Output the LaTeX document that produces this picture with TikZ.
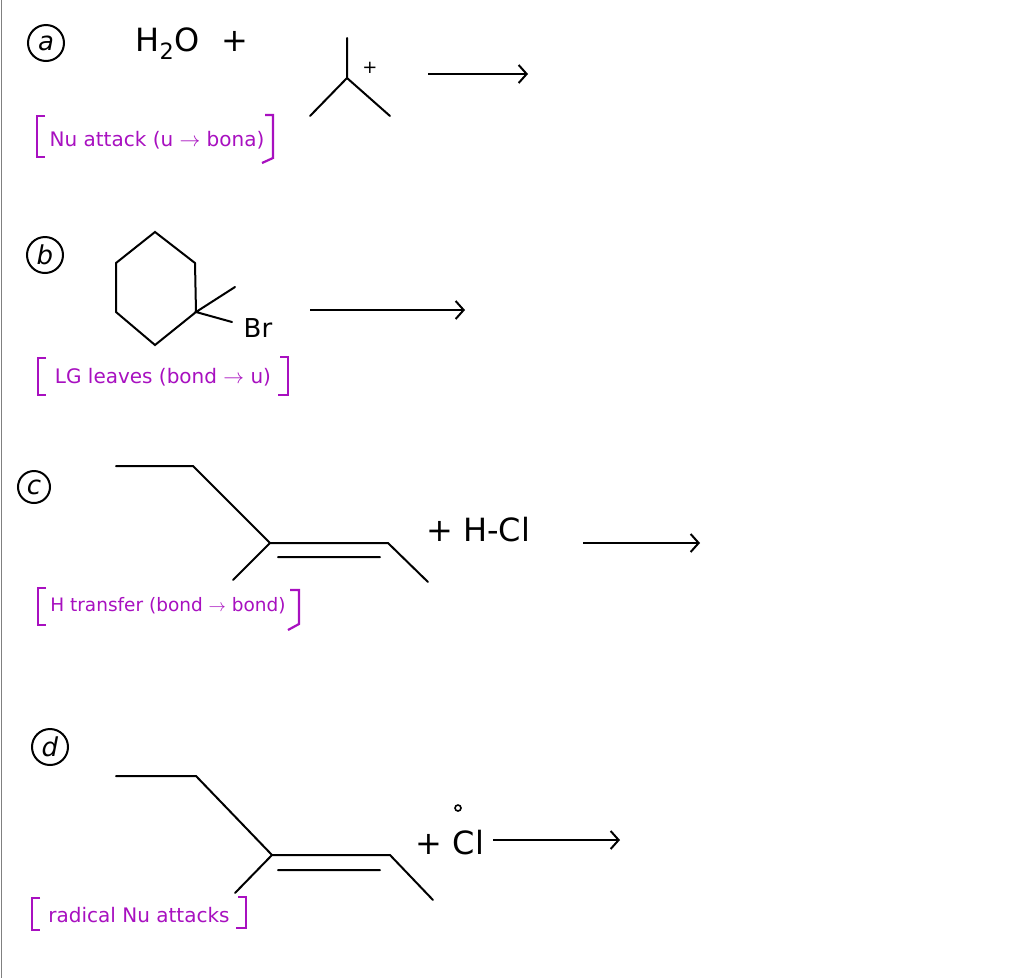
\documentclass[tikz,border=0pt]{standalone}
\usepackage{fontspec}
\setmainfont{DejaVu Sans}
\usetikzlibrary{arrows.meta}
\begin{document}
\begin{tikzpicture}[x=1pt,y=-1pt,
  bond/.style={line width=2pt,line cap=round},
  lbl/.style={circle,draw,line width=2pt,minimum size=36pt,inner sep=0pt,font=\fontsize{26}{26}\selectfont\itshape},
  txt/.style={font=\fontsize{32}{32}\selectfont,inner sep=0pt},
  note/.style={font=\fontsize{20}{20}\selectfont,text=notec,inner sep=0pt},
  rxn/.style={line width=2pt,-{Straight Barb[length=8pt,width=18pt]}},
  brk/.style={draw=notec,line width=2.2pt}]
\definecolor{notec}{HTML}{A810C0}
\useasboundingbox[fill=white] (0,0) rectangle (1024,978);
\draw[gray,line width=1.5pt] (1.5,0) -- (1.5,978);
% (a)
\node[lbl] (la) at (46,43) {a};
\node[txt] (h2o) at (192,44) {H\textsubscript{2}O\hspace{22pt}+};
\coordinate (ac) at (347,78);
\coordinate (at) at (347,38);
\coordinate (al) at (310,116);
\coordinate (ar) at (390,116);
\draw[bond] (at)--(ac)--(al) (ac)--(ar);
\node[font=\fontsize{18}{18}\selectfont] (ap) at (370,68) {+};
\coordinate (a1) at (428,74); \coordinate (a2) at (528,74);
\draw[rxn] (a1)--(a2);
\node[note] (na) at (157,140) {Nu attack (u $\rightarrow$ bona)};
\draw[brk] (45,116)--(37,116)--(37,157)--(45,157);
\draw[brk] (265,115)--(273,115)--(273,158)--(262,163);
% (b)
\node[lbl] (lb) at (45,255) {b};
\coordinate (h1) at (155,232); \coordinate (h2) at (195,263);
\coordinate (h3) at (196,312); \coordinate (h4) at (155,345);
\coordinate (h5) at (116,312); \coordinate (h6) at (116,263);
\draw[bond] (h1)--(h2)--(h3)--(h4)--(h5)--(h6)--cycle;
\coordinate (bm) at (235,287); \coordinate (bb) at (232,322);
\draw[bond] (bm)--(h3)--(bb);
\node[txt,font=\fontsize{26}{26}\selectfont] (br) at (258,328) {Br};
\coordinate (b1) at (310,310); \coordinate (b2) at (465,310);
\draw[rxn] (b1)--(b2);
\node[note] (nb) at (163,377) {LG leaves (bond $\rightarrow$ u)};
\draw[brk] (46,358)--(38,358)--(38,395)--(46,395);
\draw[brk] (280,357)--(288,357)--(288,395)--(278,395);
% (c)
\node[lbl,minimum size=32pt] (lc) at (34,487) {c};
\coordinate (c1) at (116,466); \coordinate (c2) at (193,466);
\coordinate (c3) at (270,543); \coordinate (c4) at (388,543);
\coordinate (c5) at (428,582); \coordinate (c6) at (233,580);
\coordinate (ci1) at (278,557); \coordinate (ci2) at (380,557);
\draw[bond] (c1)--(c2)--(c3)--(c4)--(c5) (c3)--(c6) (ci1)--(ci2);
\node[txt] (hcl) at (478,530) {+ H-Cl};
\coordinate (c7) at (583,543); \coordinate (c8) at (700,543);
\draw[rxn] (c7)--(c8);
\node[note,font=\fontsize{18.5}{18.5}\selectfont] (nc) at (168,606) {H transfer (bond $\rightarrow$ bond)};
\draw[brk] (46,588)--(38,588)--(38,625)--(46,625);
\draw[brk] (290,590)--(299,590)--(299,624)--(288,630);
% (d)
\node[lbl] (ld) at (50,747) {d};
\coordinate (d1) at (116,776); \coordinate (d2) at (196,776);
\coordinate (d3) at (272,855); \coordinate (d4) at (390,855);
\coordinate (d5) at (433,900); \coordinate (d6) at (235,893);
\coordinate (di1) at (278,870); \coordinate (di2) at (380,870);
\draw[bond] (d1)--(d2)--(d3)--(d4)--(d5) (d3)--(d6) (di1)--(di2);
\node[txt] (cl) at (450,843) {+ Cl};
\node[circle,draw,line width=1.6pt,minimum size=6pt,inner sep=0pt] (dot) at (458,808) {};
\coordinate (d7) at (493,840); \coordinate (d8) at (620,840);
\draw[rxn] (d7)--(d8);
\node[note] (nd) at (139,915) {radical Nu attacks};
\draw[brk] (40,898)--(32,898)--(32,930)--(40,930);
\draw[brk] (238,897)--(246,897)--(246,928)--(236,928);
\end{tikzpicture}
\end{document}
